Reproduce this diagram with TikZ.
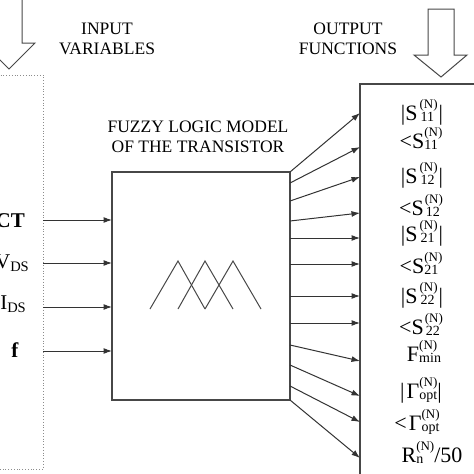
\documentclass[tikz,border=0pt]{standalone}
\usepackage{fontspec}
\setmainfont{Liberation Serif}
\usetikzlibrary{arrows.meta}
\newcommand{\supsb}[2]{%
  \setbox0\hbox{\fontsize{13}{13}\selectfont #1}%
  \setbox2\hbox{\fontsize{14}{14}\selectfont #2}%
  \ifdim\wd0>\wd2 \dimen0=\wd0 \else \dimen0=\wd2 \fi
  \rlap{\raise12pt\box0}\makebox[\dimen0][l]{\lower1.5pt\box2}}
\newcommand{\lowsub}[1]{\lower3pt\hbox{\fontsize{14.5}{15}\selectfont #1}}
\begin{document}
\begin{tikzpicture}[x=1pt,y=-1pt,
  ln/.style={draw=black!72, line width=1.3pt},
  thin ln/.style={draw=black!72, line width=1pt},
  arr/.style={draw=black!80, line width=1pt, -{Latex[length=8.5pt,width=6pt]}},
  lab/.style={font=\fontsize{22}{24}\selectfont, inner sep=0pt},
  inlab/.style={font=\fontsize{21}{24}\selectfont, inner sep=0pt},
  head/.style={font=\fontsize{17.5}{20}\selectfont, align=center, inner sep=0pt},
  dotbox/.style={draw=black!45, line width=0.8pt, dotted}]
\clip (0,0) rectangle (474,474);
\fill[white] (0,0) rectangle (474,474);

% hollow arrows
\draw[thin ln] (-4,-5) -- (-4,43) -- (-17,43) -- (9,69) -- (35,43) -- (22,43) -- (22,-5);
\draw[thin ln] (428,9) -- (428,55) -- (414,55) -- (441,77) -- (467,55) -- (454,55) -- (454,9) -- cycle;

% headings
\node[head] (hin) at (107,39) {INPUT\\VARIABLES};
\node[head] (hout) at (348,39) {OUTPUT\\FUNCTIONS};
\node[head] (hfz) at (198,137) {FUZZY LOGIC MODEL\\OF THE TRANSISTOR};

% input dotted box
\draw[dotbox] (-5,75) -- (43,75) -- (43,469) -- (-5,469);

% fuzzy box
\node[ln, minimum width=178pt, minimum height=228pt, inner sep=0pt, outer sep=0pt] (fz) at (201,286) {};
% membership triangles
\draw[thin ln] (150,309) -- (178,261) -- (205,309);
\draw[thin ln] (178,309) -- (205,261) -- (233,309);
\draw[thin ln] (205,309) -- (233,261) -- (261,309);

% output box
\node[ln, minimum width=140pt, minimum height=420pt, inner sep=0pt, outer sep=0pt, anchor=north west] (ob) at (360,84) {};

% input labels
\node[inlab, anchor=base east] (vct) at (25,227) {\textbf{CT}};
\node[inlab, anchor=base east] (vvds) at (29,268) {V\lowsub{DS}};
\node[inlab, anchor=base east] (vids) at (26,309) {I\lowsub{DS}};
\node[inlab, anchor=base] (vf) at (15,357) {\textbf{f}};

% input arrows
\foreach \n/\y in {1/220, 2/263, 3/307, 4/351} {
  \coordinate (i\n) at (43,\y);
  \draw[arr] (i\n) -- (fz.west |- i\n);
}

% output labels
\node[lab, anchor=base] (o1) at (422,120) {|S\kern2pt\supsb{(N)}{\kern1pt 11}\kern1pt|};
\node[lab, anchor=base] (o2) at (421,148) {<S\supsb{(N)}{11}};
\node[lab, anchor=base] (o3) at (422,183) {|S\kern2pt\supsb{(N)}{\kern1pt 12}\kern1pt|};
\node[lab, anchor=base] (o4) at (421,215) {<S\kern1pt\supsb{(N)}{\kern1pt 12}};
\node[lab, anchor=base] (o5) at (422,241) {|S\kern2pt\supsb{(N)}{\kern1pt 21}\kern1pt|};
\node[lab, anchor=base] (o6) at (421,273) {<S\supsb{(N)}{21}};
\node[lab, anchor=base] (o7) at (422,303) {|S\kern2pt\supsb{(N)}{\kern1pt 22}\kern1pt|};
\node[lab, anchor=base] (o8) at (421,334) {<S\kern1pt\supsb{(N)}{\kern1pt 22}};
\node[lab, anchor=base] (o9) at (424,361) {F\supsb{(N)}{min}};
\node[lab, anchor=base] (o10) at (421,398) {|\kern2ptΓ\supsb{(N)}{opt}|};
\node[lab, anchor=base] (o11) at (417,430) {<\kern2ptΓ\supsb{(N)}{opt}};
\node[lab, anchor=base] (o12) at (432,462) {R\supsb{(N)}{n}/50};

% output arrows
\foreach \n/\ya/\yb in {1/172/113, 2/183/147, 3/201/177, 4/221/213,
                         5/238/238, 6/264/264, 7/296/296, 8/323/323,
                         9/345/361, 10/365/396, 11/386/422, 12/400/458} {
  \coordinate (s\n) at (290,\ya);
  \coordinate (e\n) at (360,\yb);
  \draw[arr] (fz.east |- s\n) -- (ob.west |- e\n);
}
\end{tikzpicture}
\end{document}
